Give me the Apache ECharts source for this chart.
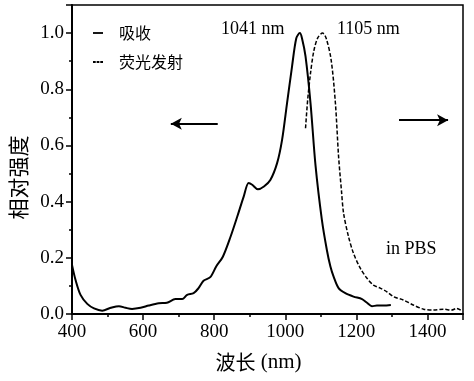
<!DOCTYPE html>
<html>
<head>
<meta charset="utf-8">
<script src="https://cdn.jsdelivr.net/npm/echarts@6/dist/echarts.min.js"></script>
<style>html,body{margin:0;padding:0;background:#fff}#c{width:474px;height:381px}</style>
</head>
<body>
<div id="c"></div>
<script>
// Absorption (solid)
const absWavelength = [400,410,424,443,462,485,509,532,551,569,593,616,644,667,691,710,724,742,756,770,789,806,824,846,865,883,897,907,923,940,958,977,991,1005,1019,1031,1041,1047,1057,1071,1085,1103,1117,1127,1136,1150,1169,1192,1216,1230,1244,1258,1276,1297];
const absValue      = [0.175,0.121,0.068,0.036,0.020,0.012,0.022,0.028,0.022,0.018,0.022,0.030,0.038,0.040,0.053,0.053,0.068,0.074,0.092,0.118,0.131,0.170,0.203,0.275,0.347,0.418,0.466,0.460,0.444,0.454,0.477,0.537,0.620,0.751,0.881,0.982,1.0,0.982,0.917,0.751,0.530,0.335,0.228,0.169,0.133,0.092,0.074,0.062,0.053,0.040,0.028,0.030,0.030,0.032];
// Fluorescence emission (dashed)
const emWavelength = [1057,1063,1071,1080,1091,1105,1115,1129,1141,1150,1158,1164,1178,1192,1211,1230,1248,1267,1286,1304,1332,1360,1389,1417,1445,1468,1482,1496];
const emValue      = [0.661,0.762,0.857,0.934,0.982,1.0,0.982,0.905,0.751,0.560,0.440,0.359,0.275,0.216,0.163,0.127,0.103,0.092,0.079,0.062,0.050,0.032,0.017,0.014,0.017,0.014,0.020,0.012];
const seriesNames = ['吸收','荧光发射'];
const peakLabels = ['1041 nm','1105 nm'];
const noteLabel = 'in PBS';
// arrows: [x1,y1,x2,y2] in data units
const leftArrow = [810, 0.677, 678, 0.677];
const rightArrow = [1320, 0.69, 1458, 0.69];

const pair = (xs, ys) => xs.map((x, i) => [x, ys[i]]);
const serif = 'Liberation Serif';
const cjk = 'Noto Sans CJK SC';

const chart = echarts.init(document.getElementById('c'));
chart.setOption({
  animation: false,
  backgroundColor: '#fff',
  grid: { left: 71, right: 11, top: 5, bottom: 67, show: true, borderColor: '#000', borderWidth: 1.5 },
  legend: {
    left: 88, top: 20, orient: 'vertical', itemWidth: 10, itemHeight: 3, itemGap: 13,
    textStyle: { fontFamily: cjk, fontSize: 16, color: '#000', padding: [0, 0, 0, 11] },
    data: [
      { name: seriesNames[0], icon: 'path://M0,0h11v2h-11z' },
      { name: seriesNames[1], icon: 'path://M0,0h3v2h-3zM4,0h3v2h-3zM8,0h3v2h-3z' }
    ]
  },
  xAxis: {
    type: 'value', min: 400, max: 1500, interval: 200,
    axisLine: { lineStyle: { color: '#000', width: 2 } },
    axisTick: { show: true, inside: false, length: 6, lineStyle: { color: '#000', width: 1.5 } },
    minorTick: { show: true, splitNumber: 2, length: 3, lineStyle: { color: '#000', width: 1.5 } },
    splitLine: { show: false },
    axisLabel: { color: '#000', fontFamily: serif, fontSize: 19, margin: 9,
      formatter: v => (v % 200 === 0 && v < 1500) ? String(v) : '' },
    name: '{a|波长}{b| (nm)}', nameLocation: 'middle', nameGap: 38,
    nameTextStyle: { padding: [0, 18, 0, 0], rich: { a: { fontFamily: cjk, fontSize: 20, color: '#000' }, b: { fontFamily: serif, fontSize: 21, color: '#000' } } }
  },
  yAxis: {
    type: 'value', min: 0, max: 1.1, interval: 0.2,
    axisLine: { lineStyle: { color: '#000', width: 2 } },
    axisTick: { show: true, inside: false, length: 6, lineStyle: { color: '#000', width: 1.5 } },
    minorTick: { show: true, splitNumber: 2, length: 3, lineStyle: { color: '#000', width: 1.5 } },
    splitLine: { show: false },
    axisLabel: { color: '#000', fontFamily: serif, fontSize: 19, margin: 8,
      formatter: v => (Math.abs(v * 5 - Math.round(v * 5)) < 1e-6 && v <= 1.0001) ? v.toFixed(1) : '' },
    name: '相对强度', nameLocation: 'middle', nameGap: 43, nameRotate: 90,
    nameTextStyle: { fontFamily: cjk, fontSize: 21, color: '#000', padding: [0, 36, 0, 0] }
  },
  series: [
    {
      name: seriesNames[0], type: 'line', data: pair(absWavelength, absValue),
      showSymbol: false, symbol: 'none', smooth: 0.3,
      lineStyle: { color: '#000', width: 2 }, itemStyle: { color: '#000' },
      markLine: {
        silent: true, symbol: ['none', 'arrow'], symbolSize: [9, 11],
        lineStyle: { color: '#000', width: 2, type: 'solid' }, label: { show: false },
        data: [
          [{ coord: [leftArrow[0], leftArrow[1]] }, { coord: [leftArrow[2], leftArrow[3]] }],
          [{ coord: [rightArrow[0], rightArrow[1]] }, { coord: [rightArrow[2], rightArrow[3]] }]
        ]
      }
    },
    {
      name: seriesNames[1], type: 'line', data: pair(emWavelength, emValue),
      showSymbol: false, symbol: 'none', smooth: 0.3,
      lineStyle: { color: '#000', width: 1.5, type: [4, 2] }, itemStyle: { color: '#000' }
    }
  ],
  graphic: [
    { type: 'text', left: 221, top: 20, style: { text: peakLabels[0], font: '18px "Liberation Serif"', fill: '#000' } },
    { type: 'text', left: 337, top: 20, style: { text: peakLabels[1], font: '18px "Liberation Serif"', fill: '#000' } },
    { type: 'text', left: 386, top: 240, style: { text: noteLabel, font: '18px "Liberation Serif"', fill: '#000' } }
  ]
});
</script>
</body>
</html>
